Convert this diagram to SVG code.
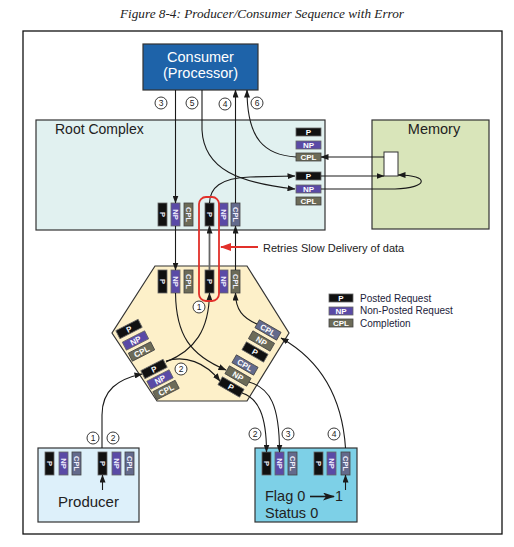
<svg xmlns="http://www.w3.org/2000/svg" width="514" height="547" viewBox="0 0 514 547">
<defs>
<marker id="ah" markerUnits="userSpaceOnUse" markerWidth="8" markerHeight="6" refX="7.5" refY="3" orient="auto"><path d="M0,0 L8,3 L0,6 z" fill="#1a1a1a"/></marker>
<marker id="ahr" markerUnits="userSpaceOnUse" markerWidth="11" markerHeight="8" refX="10" refY="4" orient="auto"><path d="M0,0 L11,4 L0,8 z" fill="#e2302a"/></marker>
<marker id="ahb" markerUnits="userSpaceOnUse" markerWidth="12" markerHeight="8" refX="11" refY="4" orient="auto"><path d="M0,0 L12,4 L0,8 L3,4 z" fill="#1a1a1a"/></marker>
<style>
.box{stroke:#333;stroke-width:1.2}
.p{fill:#111;stroke:#666;stroke-width:0.8}
.np{fill:#5a4aa6;stroke:#666;stroke-width:0.8}
.cpl{fill:#6c6b58;stroke:#444;stroke-width:0.8}
.cps{fill:#636a8c;stroke:#444;stroke-width:0.8}
.qt{font-family:"Liberation Sans",Arial,sans-serif;font-weight:bold;font-size:8px;fill:#fff;text-anchor:middle}
.qv{font-family:"Liberation Sans",Arial,sans-serif;font-weight:bold;font-size:7.5px;fill:#f2f0ff;text-anchor:middle}
.lt{font-family:"Liberation Sans",Arial,sans-serif;fill:#222}
.c{fill:none;stroke:#1a1a1a;stroke-width:1.1}
.lc{fill:#fff;stroke:#222;stroke-width:0.9}
.ln{font-family:"Liberation Sans",Arial,sans-serif;font-size:8.5px;fill:#222;text-anchor:middle}
</style>
</defs>
<rect width="514" height="547" fill="#fff"/>
<text x="262" y="18" font-family="'Liberation Serif','Times New Roman',serif" font-style="italic" font-size="13" fill="#222" text-anchor="middle" textLength="284" lengthAdjust="spacingAndGlyphs">Figure 8-4: Producer/Consumer Sequence with Error</text>
<rect x="23" y="31" width="479" height="503" fill="none" stroke="#111" stroke-width="1.3"/>

<g id="consumer">
<rect class="box" x="143" y="44" width="115" height="46" fill="#1e63a9" stroke="#1b2b40"/>
<text class="lt" x="200.5" y="62" font-size="14.5" text-anchor="middle" style="fill:#fff">Consumer</text>
<text class="lt" x="200.5" y="78" font-size="14.5" text-anchor="middle" style="fill:#fff">(Processor)</text>
</g>

<g id="root-complex">
<rect class="box" x="36" y="120" width="289" height="110" fill="#e1f1f0"/>
<text class="lt" x="55" y="134" font-size="14">Root Complex</text>
<rect class="p" x="296" y="128" width="25" height="8"/><text class="qt" x="308.5" y="135">P</text>
<rect class="np" x="296" y="141" width="25" height="8"/><text class="qt" x="308.5" y="148">NP</text>
<rect class="cpl" x="296" y="153" width="25" height="8"/><text class="qt" x="308.5" y="160">CPL</text>
<rect class="p" x="296" y="172" width="25" height="8"/><text class="qt" x="308.5" y="179">P</text>
<rect class="np" x="296" y="185" width="25" height="8"/><text class="qt" x="308.5" y="192">NP</text>
<rect class="cpl" x="296" y="197" width="25" height="8"/><text class="qt" x="308.5" y="204">CPL</text>
<rect class="p" x="158" y="203" width="9" height="23"/><text class="qv" x="162.5" y="214.5" dy="2.7" transform="rotate(90 162.5 214.5)">P</text>
<rect class="np" x="171" y="203" width="9" height="23"/><text class="qv" x="175.5" y="214.5" dy="2.7" transform="rotate(90 175.5 214.5)">NP</text>
<rect class="cpl" x="184" y="203" width="9" height="23"/><text class="qv" x="188.5" y="214.5" dy="2.7" transform="rotate(90 188.5 214.5)">CPL</text>
<rect class="p" x="205" y="203" width="9" height="23"/><text class="qv" x="209.5" y="214.5" dy="2.7" transform="rotate(90 209.5 214.5)">P</text>
<rect class="np" x="219" y="203" width="9" height="23"/><text class="qv" x="223.5" y="214.5" dy="2.7" transform="rotate(90 223.5 214.5)">NP</text>
<rect class="cps" x="231" y="203" width="9" height="23"/><text class="qv" x="235.5" y="214.5" dy="2.7" transform="rotate(90 235.5 214.5)">CPL</text>
</g>

<g id="memory">
<rect class="box" x="372" y="120" width="117" height="109" fill="#d9e5ba"/>
<text class="lt" x="434" y="134" font-size="14.5" text-anchor="middle">Memory</text>
<rect x="384" y="152" width="14" height="24" fill="#fff" stroke="#333" stroke-width="1"/>
</g>

<g id="switch">
<polygon class="box" points="155,266 247,266 289,333 247,401 157,401 112,333" fill="#fdf0c9"/>
<rect class="p" x="158" y="270" width="9" height="23"/><text class="qv" x="162.5" y="281.5" dy="2.7" transform="rotate(90 162.5 281.5)">P</text>
<rect class="np" x="171" y="270" width="9" height="23"/><text class="qv" x="175.5" y="281.5" dy="2.7" transform="rotate(90 175.5 281.5)">NP</text>
<rect class="cpl" x="184" y="270" width="9" height="23"/><text class="qv" x="188.5" y="281.5" dy="2.7" transform="rotate(90 188.5 281.5)">CPL</text>
<rect class="p" x="205" y="270" width="9" height="23"/><text class="qv" x="209.5" y="281.5" dy="2.7" transform="rotate(90 209.5 281.5)">P</text>
<rect class="np" x="219" y="270" width="9" height="23"/><text class="qv" x="223.5" y="281.5" dy="2.7" transform="rotate(90 223.5 281.5)">NP</text>
<rect class="cpl" x="231" y="270" width="9" height="23"/><text class="qv" x="235.5" y="281.5" dy="2.7" transform="rotate(90 235.5 281.5)">CPL</text>
<g transform="translate(129 329) rotate(-27)"><rect class="p" x="-12.5" y="-4.5" width="25" height="9"/><text class="qt" y="3">P</text></g>
<g transform="translate(135.5 340.5) rotate(-27)"><rect class="np" x="-12.5" y="-4.5" width="25" height="9"/><text class="qt" y="3">NP</text></g>
<g transform="translate(141.5 351.5) rotate(-27)"><rect class="cpl" x="-12.5" y="-4.5" width="25" height="9"/><text class="qt" y="3">CPL</text></g>
<g transform="translate(154 369) rotate(-27)"><rect class="p" x="-12.5" y="-4.5" width="25" height="9"/><text class="qt" y="3">P</text></g>
<g transform="translate(160 379.5) rotate(-27)"><rect class="np" x="-12.5" y="-4.5" width="25" height="9"/><text class="qt" y="3">NP</text></g>
<g transform="translate(166 390) rotate(-27)"><rect class="cpl" x="-12.5" y="-4.5" width="25" height="9"/><text class="qt" y="3">CPL</text></g>
<g transform="translate(268 330) rotate(30)"><rect class="cps" x="-12.5" y="-4.5" width="25" height="9"/><text class="qt" y="3">CPL</text></g>
<g transform="translate(261.5 341) rotate(30)"><rect class="cpl" x="-12.5" y="-4.5" width="25" height="9"/><text class="qt" y="3">NP</text></g>
<g transform="translate(255 352) rotate(30)"><rect class="p" x="-12.5" y="-4.5" width="25" height="9"/><text class="qt" y="3">P</text></g>
<g transform="translate(245 365) rotate(30)"><rect class="cps" x="-12.5" y="-4.5" width="25" height="9"/><text class="qt" y="3">CPL</text></g>
<g transform="translate(238 376) rotate(30)"><rect class="cpl" x="-12.5" y="-4.5" width="25" height="9"/><text class="qt" y="3">NP</text></g>
<g transform="translate(231 387) rotate(30)"><rect class="p" x="-12.5" y="-4.5" width="25" height="9"/><text class="qt" y="3">P</text></g>
</g>

<g id="legend">
<rect class="p" x="329" y="294" width="24" height="8"/><text class="qt" x="341" y="301">P</text>
<rect class="np" x="329" y="307" width="24" height="8"/><text class="qt" x="341" y="314">NP</text>
<rect class="cpl" x="329" y="319" width="24" height="8"/><text class="qt" x="341" y="326">CPL</text>
<text class="lt" x="360" y="302" font-size="10" style="fill:#1c1c3a">Posted Request</text>
<text class="lt" x="360" y="314" font-size="10" style="fill:#1c1c3a">Non-Posted Request</text>
<text class="lt" x="360" y="326.5" font-size="10" style="fill:#1c1c3a">Completion</text>
</g>

<g id="producer">
<rect class="box" x="38" y="448" width="101" height="74" fill="#ddf0fa"/>
<rect class="p" x="45" y="452" width="9" height="23"/><text class="qv" x="49.5" y="463.5" dy="2.7" transform="rotate(90 49.5 463.5)">P</text>
<rect class="np" x="59" y="452" width="9" height="23"/><text class="qv" x="63.5" y="463.5" dy="2.7" transform="rotate(90 63.5 463.5)">NP</text>
<rect class="cps" x="72" y="452" width="9" height="23"/><text class="qv" x="76.5" y="463.5" dy="2.7" transform="rotate(90 76.5 463.5)">CPL</text>
<rect class="p" x="98" y="452" width="9" height="23"/><text class="qv" x="102.5" y="463.5" dy="2.7" transform="rotate(90 102.5 463.5)">P</text>
<rect class="np" x="112" y="452" width="9" height="23"/><text class="qv" x="116.5" y="463.5" dy="2.7" transform="rotate(90 116.5 463.5)">NP</text>
<rect class="cps" x="125" y="452" width="9" height="23"/><text class="qv" x="129.5" y="463.5" dy="2.7" transform="rotate(90 129.5 463.5)">CPL</text>
<text class="lt" x="88.5" y="507" font-size="15" text-anchor="middle">Producer</text>
</g>

<g id="flag-status">
<rect class="box" x="255" y="448" width="102" height="74" fill="#7dd0e7"/>
<rect class="p" x="262" y="452" width="9" height="23"/><text class="qv" x="266.5" y="463.5" dy="2.7" transform="rotate(90 266.5 463.5)">P</text>
<rect class="np" x="275" y="452" width="9" height="23"/><text class="qv" x="279.5" y="463.5" dy="2.7" transform="rotate(90 279.5 463.5)">NP</text>
<rect class="cps" x="288" y="452" width="9" height="23"/><text class="qv" x="292.5" y="463.5" dy="2.7" transform="rotate(90 292.5 463.5)">CPL</text>
<rect class="p" x="314" y="452" width="9" height="23"/><text class="qv" x="318.5" y="463.5" dy="2.7" transform="rotate(90 318.5 463.5)">P</text>
<rect class="np" x="327" y="452" width="9" height="23"/><text class="qv" x="331.5" y="463.5" dy="2.7" transform="rotate(90 331.5 463.5)">NP</text>
<rect class="cps" x="341" y="452" width="9" height="23"/><text class="qv" x="345.5" y="463.5" dy="2.7" transform="rotate(90 345.5 463.5)">CPL</text>
<text class="lt" x="265" y="501" font-size="14.5">Flag 0</text>
<line x1="310" y1="496.5" x2="334" y2="496.5" stroke="#1a1a1a" stroke-width="1.6" marker-end="url(#ahb)"/>
<text class="lt" x="335" y="501" font-size="14.5">1</text>
<text class="lt" x="265" y="517.5" font-size="14.5">Status 0</text>
</g>

<g id="connectors">
<line class="c" x1="175.5" y1="90" x2="175.5" y2="203" marker-end="url(#ah)"/>
<path class="c" d="M202,90 L202,130 C204,170 240,183 295,189" marker-end="url(#ah)"/>
<line class="c" x1="235.5" y1="203" x2="235.5" y2="90" marker-end="url(#ah)"/>
<path class="c" d="M296,157 C265,155 247,140 247,90" marker-end="url(#ah)"/>
<path class="c" d="M209.5,203 C210,188 220,178 250,177 L295,176" marker-end="url(#ah)"/>
<line class="c" x1="384" y1="157" x2="321" y2="157" marker-end="url(#ah)"/>
<line class="c" x1="321" y1="176" x2="384" y2="176" marker-end="url(#ah)"/>
<path class="c" d="M321,189 L395,189 C429,188 430,175 398,175" marker-end="url(#ah)"/>
<line class="c" x1="175.5" y1="226" x2="175.5" y2="270" marker-end="url(#ah)"/>
<line x1="209.5" y1="270" x2="209.5" y2="226" stroke="#666" stroke-width="1.8" marker-end="url(#ah)"/>
<line class="c" x1="235.5" y1="270" x2="235.5" y2="226" marker-end="url(#ah)"/>
<path class="c" d="M175.5,293 C176,335 190,355 226,370" marker-end="url(#ah)"/>
<path class="c" d="M166,362 C195,350 209,330 209.5,293" marker-end="url(#ah)"/>
<path class="c" d="M166,361 C185,355 205,362 220,381" marker-end="url(#ah)"/>
<path class="c" d="M257,324 C243,318 235.5,310 235.5,293" marker-end="url(#ah)"/>
<path class="c" d="M102,448 L102,415 C102,390 118,379 142,374" marker-end="url(#ah)"/>
<path class="c" d="M242,393 C258,398 266.5,415 266.5,452" marker-end="url(#ah)"/>
<path class="c" d="M249,382 C270,388 279.5,405 279.5,452" marker-end="url(#ah)"/>
<path class="c" d="M345.5,448 C342,395 320,360 281,338" marker-end="url(#ah)"/>
<line class="c" x1="102.5" y1="490" x2="102.5" y2="475" marker-end="url(#ah)"/>
<line class="c" x1="345.5" y1="490" x2="345.5" y2="475" marker-end="url(#ah)"/>
<rect x="199" y="197" width="20" height="104" rx="7" fill="none" stroke="#e2302a" stroke-width="1.8"/>
<line x1="258" y1="247" x2="221" y2="247" stroke="#e2302a" stroke-width="2" marker-end="url(#ahr)"/>
</g>

<g id="labels">
<text class="lt" x="263" y="251.5" font-size="11">Retries Slow Delivery of data</text>
<circle class="lc" cx="161" cy="103" r="6"/><text class="ln" x="161" y="106">3</text>
<circle class="lc" cx="192" cy="103" r="6"/><text class="ln" x="192" y="106">5</text>
<circle class="lc" cx="225" cy="104" r="6"/><text class="ln" x="225" y="107">4</text>
<circle class="lc" cx="257" cy="103" r="6"/><text class="ln" x="257" y="106">6</text>
<circle class="lc" cx="199" cy="307" r="6"/><text class="ln" x="199" y="310">1</text>
<circle class="lc" cx="181" cy="369" r="6"/><text class="ln" x="181" y="372">2</text>
<circle class="lc" cx="93" cy="438" r="6"/><text class="ln" x="93" y="441">1</text>
<circle class="lc" cx="113" cy="438" r="6"/><text class="ln" x="113" y="441">2</text>
<circle class="lc" cx="255" cy="434" r="6"/><text class="ln" x="255" y="437">2</text>
<circle class="lc" cx="288" cy="434" r="6"/><text class="ln" x="288" y="437">3</text>
<circle class="lc" cx="334" cy="434" r="6"/><text class="ln" x="334" y="437">4</text>
</g>
</svg>
